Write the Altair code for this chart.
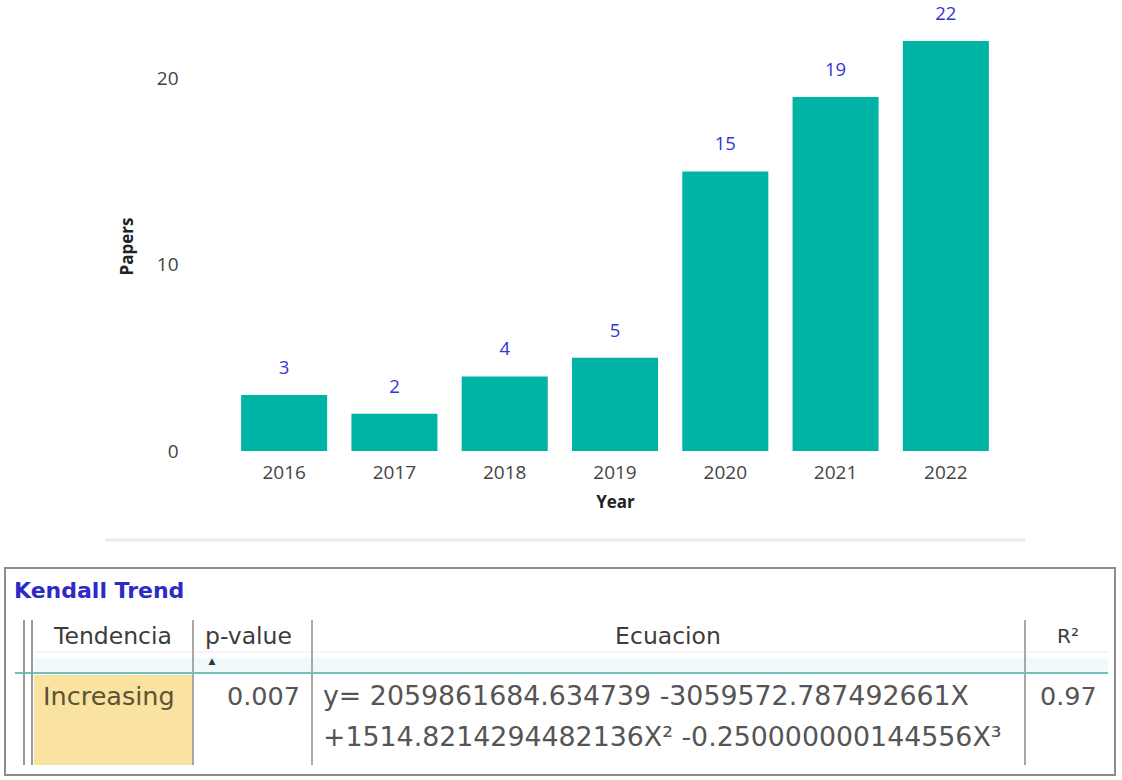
import altair as alt
import pandas as pd

# ---------------- data ----------------
years = ["2016", "2017", "2018", "2019", "2020", "2021", "2022"]
papers = [3, 2, 4, 5, 15, 19, 22]
y_ticks = [0, 10, 20]

table_title = "Kendall Trend"
table_headers = ["Tendencia", "p-value", "Ecuacion", "R²"]
trend = "Increasing"
p_value = "0.007"
equation_lines = [
    "y= 2059861684.634739 -3059572.787492661X",
    "+1514.8214294482136X² -0.250000000144556X³",
]
r_squared = "0.97"

# ---------------- layout ----------------
PAGE_W, PAGE_H = 1122, 780
OX, OY = 229, 41          # plot origin on the page
W, H = 772, 410           # plot area


def px(x):
    return x - OX


def py(y):
    return y - OY


df = pd.DataFrame({"Year": years, "Papers": papers})
one = pd.DataFrame({"k": [0]})

CHART_FONT = "Open Sans"
TABLE_FONT = "DejaVu Sans"

xenc = alt.X(
    "Year:O",
    title="Year",
    scale=alt.Scale(paddingInner=0.22, paddingOuter=0.11),
    axis=alt.Axis(
        labelAngle=0, domain=False, ticks=False, labelPadding=12,
        labelFontSize=19, labelColor="#444", labelFont=CHART_FONT,
        titleFont=CHART_FONT, titleFontSize=17, titleFontWeight="bold",
        titleColor="#222", titlePadding=12,
    ),
)
yenc = alt.Y(
    "Papers:Q",
    title="Papers",
    scale=alt.Scale(domain=[0, 22], nice=False),
    axis=alt.Axis(
        values=y_ticks, domain=False, ticks=False, grid=False, labelPadding=51,
        labelFontSize=19, labelColor="#444", labelFont=CHART_FONT,
        titleFont=CHART_FONT, titleFontSize=17, titleFontWeight="bold",
        titleColor="#222", titlePadding=20,
    ),
)

base = alt.Chart(df).encode(x=xenc, y=yenc)
bars = base.mark_bar(color="#00B4A5")
bar_labels = base.mark_text(
    dy=-27, baseline="middle", fontSize=18.5, color="#3535D6", font=CHART_FONT
).encode(text="Papers:Q")


def rule(x1, y1, x2, y2, color, w):
    return alt.Chart(one).mark_rule(color=color, strokeWidth=w).encode(
        x=alt.value(px(x1)), x2=alt.value(px(x2)),
        y=alt.value(py(y1)), y2=alt.value(py(y2)),
    )


def box(x1, y1, x2, y2, **kw):
    return alt.Chart(one).mark_rect(**kw).encode(
        x=alt.value(px(x1)), x2=alt.value(px(x2)),
        y=alt.value(py(y1)), y2=alt.value(py(y2)),
    )


def label(s, x, y, **kw):
    return alt.Chart(one).mark_text(baseline="middle", **kw).encode(
        x=alt.value(px(x)), y=alt.value(py(y)), text=alt.value(s)
    )


HEAD = dict(font=TABLE_FONT, fontSize=23.5, color="#3C3C3C")
CELL = dict(font=TABLE_FONT, fontSize=25.5, color="#555")

deco = [
    # separator below chart
    rule(105, 540, 1025, 540, "#EBEBEB", 3),
    # table outer box
    box(5, 568, 1115, 775, fillOpacity=0, stroke="#8C8C8C", strokeWidth=2),
    # header background band
    box(34, 658, 1108, 672, color="#F0FAFA"),
    rule(34, 652, 1108, 652, "#F8E4EE", 1),
    # highlighted cell
    box(34, 675, 193, 765, color="#FAE2A0"),
    # header bottom line
    rule(15, 673, 1108, 673, "#6CC4B8", 2),
    # vertical lines
    rule(24, 620, 24, 765, "#9A9A9A", 2),
    rule(32, 620, 32, 765, "#9A9A9A", 2),
    rule(193, 620, 193, 765, "#A8A8A8", 2),
    rule(312, 620, 312, 765, "#A8A8A8", 2),
    rule(1025, 620, 1025, 765, "#A8A8A8", 2),
    # texts
    label(table_title, 14, 591, align="left", font=TABLE_FONT, fontSize=22,
          fontWeight="bold", color="#2B2BC8"),
    label(table_headers[0], 113, 637, align="center", **HEAD),
    label(table_headers[1], 205, 637, align="left", **HEAD),
    label(table_headers[2], 668, 637, align="center", **HEAD),
    label(table_headers[3], 1068, 637, align="center", font=TABLE_FONT, fontSize=20, color="#3C3C3C"),
    label("▲", 212, 661, align="center", font=TABLE_FONT, fontSize=9, color="#333"),
    label(trend, 43, 697, align="left", font=TABLE_FONT, fontSize=25.5, color="#5A5434"),
    label(p_value, 300, 697, align="right", **CELL),
    label(equation_lines[0], 323, 697, align="left", font=TABLE_FONT, fontSize=26.8, color="#555"),
    label(equation_lines[1], 323, 738, align="left", font=TABLE_FONT, fontSize=26.8, color="#555"),
    label(r_squared, 1040, 697, align="left", **CELL),
]

chart = alt.layer(bars, bar_labels, *deco).properties(
    width=W,
    height=H,
    padding={"left": OX, "top": OY, "right": PAGE_W - OX - W, "bottom": PAGE_H - OY - H},
    autosize=alt.AutoSizeParams(type="none"),
    background="white",
).configure_view(stroke=None)

chart.save("out.html", embed_options={"renderer": "svg", "actions": False})
